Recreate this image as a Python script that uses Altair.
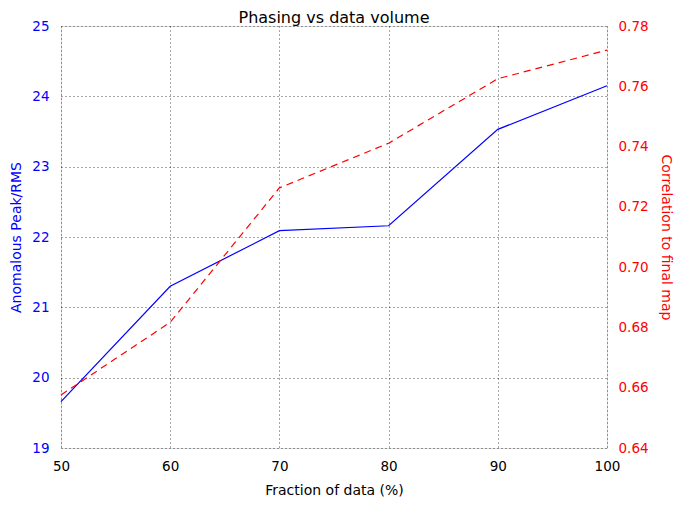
import altair as alt
import pandas as pd

fraction = [50, 60, 70, 80, 90, 100]
peak_rms = [19.66, 21.30, 22.09, 22.16, 23.53, 24.15]
correlation = [0.6576, 0.6817, 0.7263, 0.7411, 0.7625, 0.7720]

left_ticks = [19, 20, 21, 22, 23, 24, 25]
right_ticks = [0.64, 0.66, 0.68, 0.70, 0.72, 0.74, 0.76, 0.78]
x_ticks = [50, 60, 70, 80, 90, 100]

df = pd.DataFrame({"fraction": fraction, "peak": peak_rms, "corr": correlation})

FONT = "DejaVu Sans"
BLUE = "#0000ff"
RED = "#ff0000"
LBL = 13.5

x_enc = alt.X(
    "fraction:Q",
    scale=alt.Scale(domain=[50, 100], nice=False, zero=False),
    axis=alt.Axis(
        values=x_ticks,
        title="Fraction of data (%)",
        grid=True,
        gridDash=[1, 3],
        gridColor="#000000",
        gridOpacity=0.7,
        domain=False,
        ticks=False,
        labelFlush=False,
        labelPadding=11,
        labelFontSize=LBL,
        labelColor="#000000",
        labelFont=FONT,
        titleFont=FONT,
        titleFontSize=14,
        titleFontWeight="normal",
        titleColor="#000000",
        titlePadding=11,
    ),
)

blue = alt.Chart(df).mark_line(color=BLUE, strokeWidth=1.2).encode(
    x=x_enc,
    y=alt.Y(
        "peak:Q",
        scale=alt.Scale(domain=[19, 25], nice=False, zero=False),
        axis=alt.Axis(
            values=left_ticks,
            orient="left",
            title="Anomalous Peak/RMS",
            grid=True,
            gridDash=[1, 3],
            gridColor="#000000",
            gridOpacity=0.7,
            domain=False,
            ticks=False,
            labelFlush=False,
            labelPadding=12,
            labelFontSize=LBL,
            labelColor=BLUE,
            labelFont=FONT,
            titleFont=FONT,
            titleFontSize=14,
            titleFontWeight="normal",
            titleColor=BLUE,
            titlePadding=8,
        ),
    ),
)

red = alt.Chart(df).mark_line(color=RED, strokeWidth=1.2, strokeDash=[7, 5]).encode(
    x=x_enc,
    y=alt.Y(
        "corr:Q",
        scale=alt.Scale(domain=[0.64, 0.78], nice=False, zero=False),
        axis=alt.Axis(
            values=right_ticks,
            orient="right",
            format=".2f",
            title="Correlation to final map",
            grid=False,
            domain=False,
            ticks=False,
            labelFlush=False,
            labelPadding=11,
            labelFontSize=LBL,
            labelColor=RED,
            labelFont=FONT,
            titleFont=FONT,
            titleFontSize=14,
            titleFontWeight="normal",
            titleColor=RED,
            titlePadding=10,
        ),
    ),
)

chart = (
    alt.layer(blue, red)
    .resolve_scale(y="independent")
    .properties(
        width=546,
        height=422,
        title=alt.TitleParams(
            "Phasing vs data volume",
            font=FONT,
            fontSize=16,
            fontWeight="normal",
            color="#000000",
            offset=0,
            dy=7,
        ),
        autosize=alt.AutoSizeParams(type="none"),
        padding={"left": 53, "top": 18, "right": 70, "bottom": 50},
    )
    .configure_view(stroke="#000000", strokeWidth=1.2)
    .configure(background="#ffffff")
)

chart.save("out.html", embed_options={"renderer": "svg", "actions": False})
